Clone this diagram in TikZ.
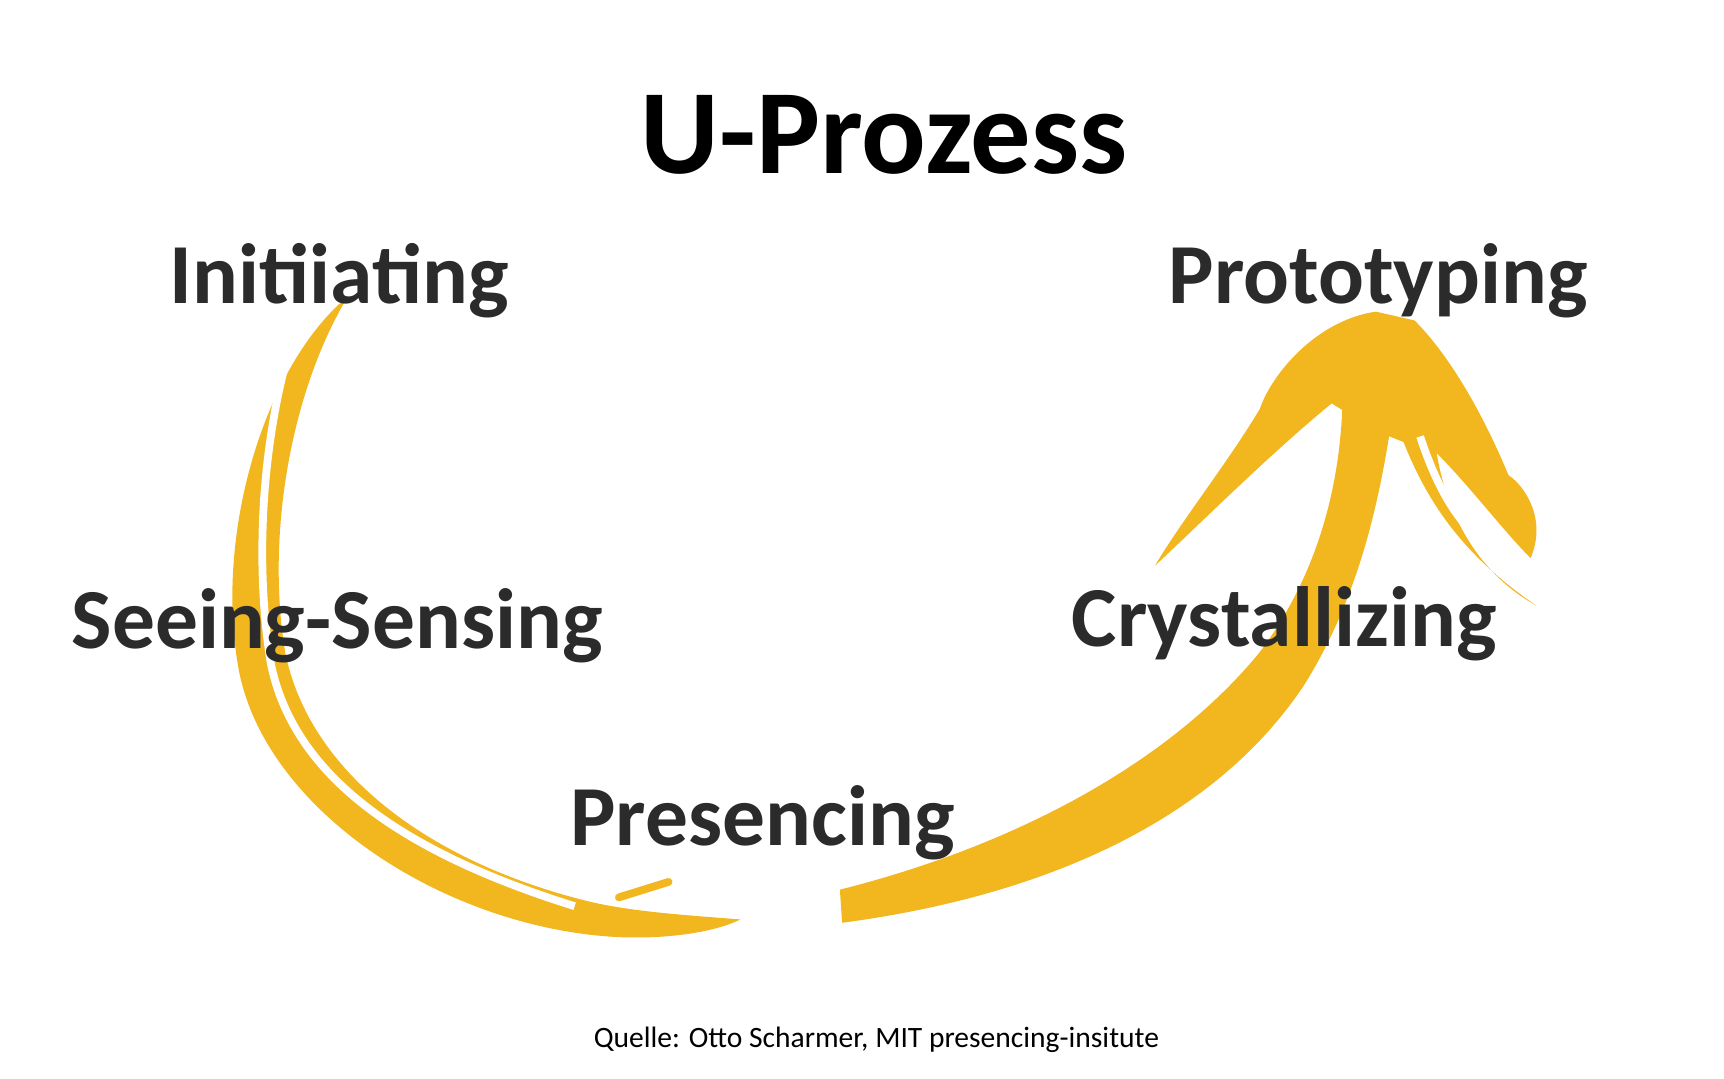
\documentclass[tikz,border=0pt]{standalone}
\usepackage{fontspec}
\setmainfont{Carlito}
\definecolor{uy}{HTML}{F2B61E}
\definecolor{tx}{HTML}{2B2B2B}
\begin{document}
\begin{tikzpicture}[x=0.01cm,y=-0.01cm,
  stroke/.style={draw=uy,line cap=round,line join=round},
  lbl/.style={font=\fontsize{22}{24}\selectfont\bfseries,text=tx,inner sep=0pt,anchor=base}]
\useasboundingbox (0,0) rectangle (1560,976);
% left arc
\fill[uy] (315,268) .. controls (240,330) and (195,480) .. (215,600)
  .. controls (235,730) and (400,840) .. (560,848)
  .. controls (610,850) and (650,842) .. (670,832)
  .. controls (620,828) and (570,825) .. (530,815)
  .. controls (390,780) and (280,700) .. (258,590)
  .. controls (240,480) and (265,350) .. (315,268) -- cycle;
\draw[white,line width=2pt] (258,330) .. controls (235,420) and (232,520) .. (245,600)
  .. controls (265,700) and (360,770) .. (520,820);
\draw[stroke,line width=2pt] (605,798) -- (560,812);
% right arc shaft
\fill[uy] (760,805) .. controls (900,770) and (1050,700) .. (1140,590)
  .. controls (1200,510) and (1215,420) .. (1215,350)
  -- (1262,360)
  .. controls (1250,450) and (1230,540) .. (1180,620)
  .. controls (1100,740) and (950,810) .. (762,835) -- cycle;
% arrow head
\fill[uy] (1245,282) .. controls (1190,290) and (1150,340) .. (1140,370)
  .. controls (1110,420) and (1070,470) .. (1045,512)
  .. controls (1090,470) and (1150,410) .. (1205,365)
  -- (1245,390) -- (1270,400)
  .. controls (1290,450) and (1320,500) .. (1390,548)
  .. controls (1340,520) and (1310,470) .. (1300,410)
  .. controls (1330,440) and (1360,480) .. (1385,505)
  .. controls (1400,470) and (1380,440) .. (1365,430)
  .. controls (1340,370) and (1310,320) .. (1280,290) -- cycle;
\draw[white,line width=2pt] (1285,395) .. controls (1300,440) and (1320,480) .. (1360,505);
% texts
\node[font=\fontsize{31}{34}\selectfont\bfseries,text=black,inner sep=0pt,anchor=base] (title) at (800,157) {U-Prozess};
\node[lbl] (ini) at (307,275) {Initiiating};
\node[lbl] (proto) at (1247,275) {Prototyping};
\node[lbl] (see) at (305,587) {Seeing-Sensing};
\node[lbl] (cry) at (1162,585) {Crystallizing};
\node[lbl] (pre) at (690,765) {Presencing};
\node[font=\fontsize{7.6}{9}\selectfont,text=black,inner sep=0pt,anchor=base] (src) at (793,948) {Quelle: Otto Scharmer, MIT presencing-insitute};
\end{tikzpicture}
\end{document}
